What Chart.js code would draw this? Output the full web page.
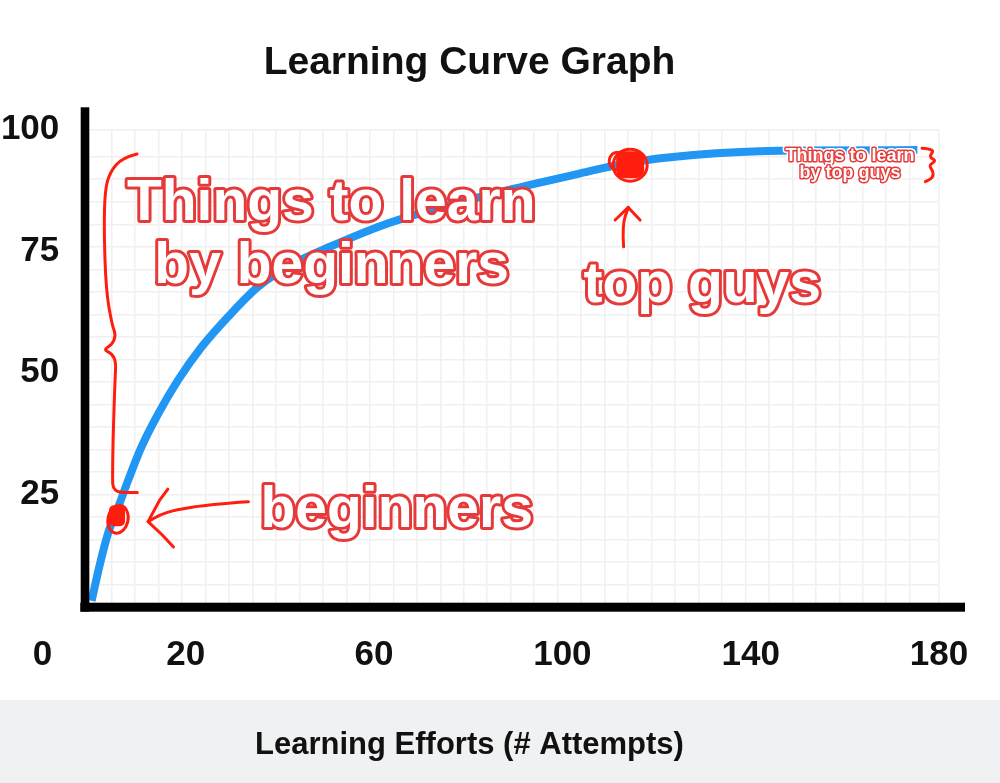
<!DOCTYPE html>
<html>
<head>
<meta charset="utf-8">
<title>Learning Curve Graph</title>
<script src="https://cdn.jsdelivr.net/npm/chart.js@4.4.1/dist/chart.umd.min.js"></script>
<style>
  html, body { margin: 0; padding: 0; background: #ffffff; }
  #wrap { width: 1000px; height: 783px; position: relative; }
</style>
</head>
<body>
<div id="wrap"><canvas id="curveChart"></canvas></div>
<script>
// ----------------------------------------------------
// DATA
// ----------------------------------------------------
const effortX = [0, 1.8, 3.5, 5.7, 7.8, 10.6, 14.2, 18.4, 23.4, 29.0, 35.4, 43.0, 50.6, 62.0, 73.4, 88.6, 103.8, 113.6, 127.8, 149.0, 175.4];
const skillY  = [3, 10.7, 16.9, 22.4, 27.9, 34.7, 41.6, 48.5, 55.3, 61.5, 67.7, 72.5, 75.9, 80.4, 83.8, 87.6, 91.0, 93.1, 94.8, 95.7, 95.8];

const xTicks = [20, 60, 100, 140, 180];
const yTicks = [25, 50, 75, 100];
const originLabel = '0';

// hand drawn notes, in data units (x = attempts, y = skill)
const braceBeginners = [[9.65, 95.0], [6.46, 94.2], [3.91, 91.3], [2.85, 87.6], [2.63, 79.4], [3.06, 67.0],
  [4.33, 59.8], [5.18, 57.7], [4.33, 55.7], [2.49, 54.7], [4.33, 53.9], [5.18, 52.2], [4.97, 48.5],
  [4.55, 36.1], [4.44, 27.9], [4.55, 26.3], [5.61, 25.3], [9.71, 25.3]];
const braceTop = [[176.4, 96.2], [179.2, 96.0], [177.8, 94.4], [179.5, 93.6], [177.8, 92.7], [178.8, 91.4], [178.7, 90.1], [177.1, 89.3]];
const arrowBeginShaft = [[33.3, 23.4], [25.5, 22.9], [17.7, 21.7], [14.5, 20.7], [12.0, 19.3]];
const arrowBeginHead = [[16.2, 26.0], [14.5, 23.8], [12.0, 19.3], [14.96, 16.6], [17.4, 14.1]];
const arrowTopShaft = [[113.0, 75.9], [112.7, 80.4], [114.0, 84.0]];
const arrowTopHead = [[111.2, 81.4], [114.0, 84.0], [116.5, 81.4]];
const markBeginner = [5.4, 20.2];
const markTop = [114.4, 92.7];

const bigNotes = [
  { text: 'Things to learn', at: [50.9, 81.4] },
  { text: 'by beginners', at: [51.0, 68.5] },
  { text: 'beginners', at: [64.8, 18.3] },
  { text: 'top guys', at: [129.7, 64.6] }
];
const smallNotes = [
  { text: 'Things to learn', at: [161.1, 93.6] },
  { text: 'by top guys', at: [161.1, 90.0] }
];

// ----------------------------------------------------
// STYLE
// ----------------------------------------------------
const FONT = "'Liberation Sans', Arial, Helvetica, sans-serif";
const INK = '#111111';
const PEN = '#ff1e0e';
const OUTLINE = '#e63a3a';

// ----------------------------------------------------
// PLUGINS
// ----------------------------------------------------
const bandPlugin = {
  id: 'band',
  beforeDraw(chart) {
    const { ctx } = chart;
    const xs = chart.scales.x;
    ctx.save();
    ctx.fillStyle = '#f0f1f3';
    ctx.fillRect(0, xs.bottom, chart.width, chart.height - xs.bottom);
    ctx.restore();
  }
};

function smoothPath(ctx, pts) {
  ctx.beginPath();
  ctx.moveTo(pts[0][0], pts[0][1]);
  for (let i = 1; i < pts.length - 1; i++) {
    const mx = (pts[i][0] + pts[i + 1][0]) / 2;
    const my = (pts[i][1] + pts[i + 1][1]) / 2;
    ctx.quadraticCurveTo(pts[i][0], pts[i][1], mx, my);
  }
  const last = pts[pts.length - 1];
  ctx.lineTo(last[0], last[1]);
  ctx.stroke();
}

const notesPlugin = {
  id: 'notes',
  afterDatasetsDraw(chart) {
    const { ctx, chartArea: a } = chart;
    const xs = chart.scales.x, ys = chart.scales.y;
    const px = p => [xs.getPixelForValue(p[0]), ys.getPixelForValue(p[1])];

    ctx.save();

    // black L axes
    ctx.fillStyle = '#000';
    ctx.fillRect(a.left - 7.6, a.top - 22.4, 8.6, a.bottom - a.top + 27);
    ctx.fillRect(a.left - 8, a.bottom - 4.3, a.right - a.left + 34, 9);

    // origin label
    ctx.font = `bold 35px ${FONT}`;
    ctx.fillStyle = INK;
    ctx.textAlign = 'center';
    ctx.textBaseline = 'middle';
    ctx.fillText(originLabel, xs.getPixelForValue(0) - 49, xs.top + 48.5);

    // pen strokes
    ctx.strokeStyle = PEN;
    ctx.fillStyle = PEN;
    ctx.lineWidth = 3;
    ctx.lineCap = 'round';
    ctx.lineJoin = 'round';
    [braceBeginners, braceTop, arrowBeginShaft, arrowTopShaft].forEach(s => smoothPath(ctx, s.map(px)));
    [arrowBeginHead, arrowTopHead].forEach(s => {
      const p = s.map(px);
      ctx.beginPath();
      ctx.moveTo(p[0][0], p[0][1]);
      for (let i = 1; i < p.length; i++) ctx.lineTo(p[i][0], p[i][1]);
      ctx.stroke();
    });

    // scribbled markers
    const [bx, by] = px(markBeginner);
    ctx.beginPath();
    ctx.roundRect(bx - 8, by - 12, 16, 21, 5);
    ctx.fill();
    ctx.beginPath();
    ctx.ellipse(bx + 1, by + 2, 10, 14, 0.2, 0, Math.PI * 2);
    ctx.stroke();

    const [tx, ty] = px(markTop);
    ctx.beginPath();
    ctx.roundRect(tx - 14, ty - 14, 28, 27, 8);
    ctx.fill();
    ctx.beginPath();
    ctx.ellipse(tx, ty, 17, 16, 0, 0, Math.PI * 2);
    ctx.stroke();
    ctx.beginPath();
    ctx.arc(tx - 12, ty - 4, 9, Math.PI * 0.6, Math.PI * 1.5);
    ctx.stroke();

    // outlined notes
    ctx.textAlign = 'center';
    ctx.textBaseline = 'alphabetic';
    ctx.font = `bold 57px ${FONT}`;
    bigNotes.forEach(n => {
      const [x, y] = px(n.at);
      ctx.lineWidth = 6;
      ctx.strokeStyle = OUTLINE;
      ctx.strokeText(n.text, x, y);
      ctx.fillStyle = '#ffffff';
      ctx.fillText(n.text, x, y);
    });

    ctx.font = `bold 18px ${FONT}`;
    smallNotes.forEach(n => {
      const [x, y] = px(n.at);
      ctx.lineWidth = 6;
      ctx.strokeStyle = '#ffffff';
      ctx.strokeText(n.text, x, y);
      ctx.lineWidth = 3;
      ctx.strokeStyle = OUTLINE;
      ctx.strokeText(n.text, x, y);
      ctx.fillStyle = '#ffffff';
      ctx.fillText(n.text, x, y);
    });

    ctx.restore();
  }
};

// ----------------------------------------------------
// CHART
// ----------------------------------------------------
const gridLine = { color: '#f0f0f0', lineWidth: 1.5, drawTicks: false };

new Chart(document.getElementById('curveChart'), {
  type: 'line',
  data: {
    datasets: [{
      label: 'Learning curve',
      data: effortX.map((x, i) => ({ x: x, y: skillY[i] })),
      xAxisID: 'x',
      yAxisID: 'y',
      borderColor: '#2196f3',
      borderWidth: 8,
      pointRadius: 0,
      fill: false,
      cubicInterpolationMode: 'monotone'
    }]
  },
  options: {
    responsive: true,
    maintainAspectRatio: false,
    animation: false,
    devicePixelRatio: 1,
    layout: { padding: { left: 0, right: 61, top: 0, bottom: 0 } },
    scales: {
      gx: {
        type: 'linear', position: 'bottom', min: 0, max: 36.25,
        ticks: { display: false, stepSize: 1 },
        grid: gridLine, border: { display: false }
      },
      gy: {
        type: 'linear', position: 'left', min: 0, max: 21.2,
        ticks: { display: false, stepSize: 1 },
        grid: gridLine, border: { display: false }
      },
      x: {
        type: 'linear', position: 'bottom', min: -0.7, max: 180,
        afterBuildTicks: s => { s.ticks = xTicks.map(v => ({ value: v })); },
        afterFit: s => { s.height = 93; },
        ticks: { color: INK, padding: 27.5, font: { family: FONT, size: 35, weight: 'bold' } },
        grid: { display: false, drawTicks: false },
        border: { display: false }
      },
      y: {
        type: 'linear', position: 'left', min: 1.73, max: 100,
        afterBuildTicks: s => { s.ticks = yTicks.map(v => ({ value: v })); },
        afterFit: s => { s.width = 88.3; },
        ticks: { color: INK, padding: 29, font: { family: FONT, size: 35, weight: 'bold' } },
        grid: { display: false, drawTicks: false },
        border: { display: false }
      }
    },
    plugins: {
      legend: { display: false },
      tooltip: { enabled: false },
      title: {
        display: true,
        text: 'Learning Curve Graph',
        color: INK,
        font: { family: FONT, size: 39, weight: 'bold' },
        padding: { top: 39.8, bottom: 43.1 }
      },
      subtitle: {
        display: true,
        position: 'bottom',
        text: 'Learning Efforts (# Attempts)',
        color: INK,
        font: { family: FONT, size: 31, weight: 'bold' },
        padding: { top: 27.2, bottom: 18.6 }
      }
    }
  },
  plugins: [bandPlugin, notesPlugin]
});
</script>
</body>
</html>
